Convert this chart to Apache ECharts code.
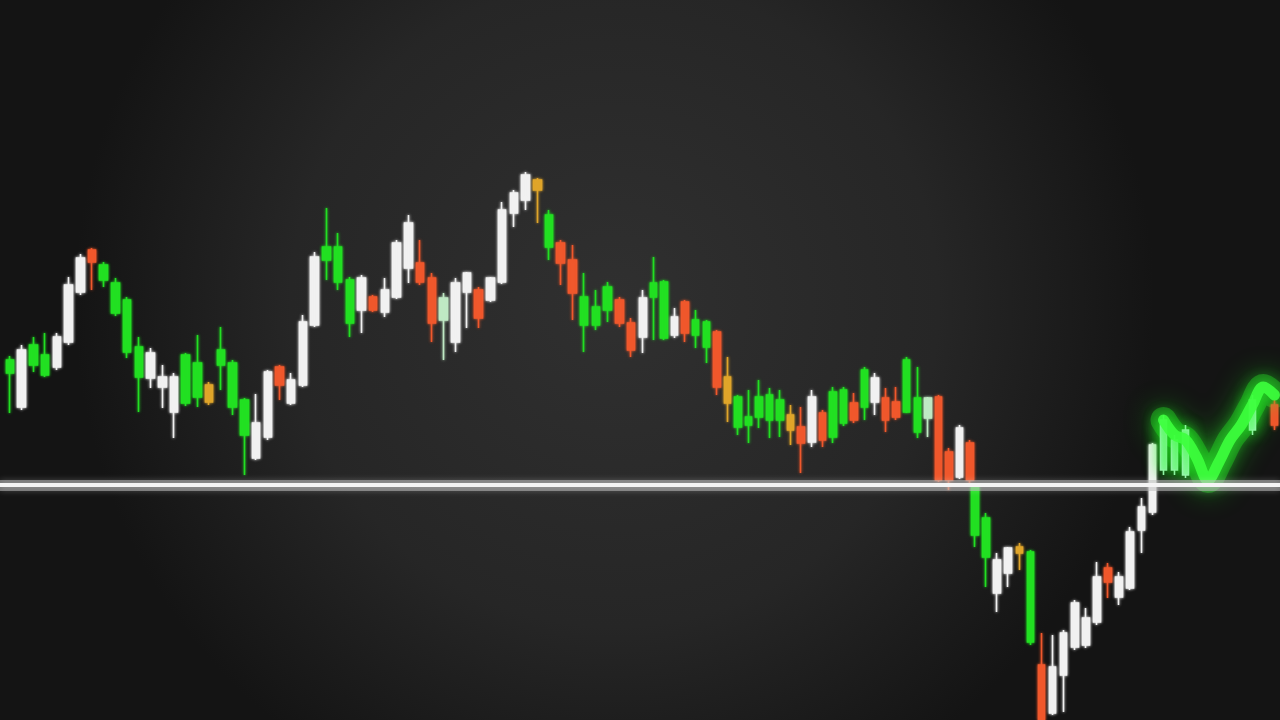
<!DOCTYPE html>
<html><head><meta charset="utf-8">
<style>html,body{margin:0;padding:0;background:#1b1b1b;overflow:hidden}#c{width:1280px;height:720px}</style>
<script src="https://cdn.jsdelivr.net/npm/echarts@6/dist/echarts.min.js"></script>
</head><body><div id="c"></div>
<script>
// Candle values (price units), in order left to right. null = no candle.
const opens  = [347,313,355,345,353,378,428,458,440,407,368,343,342,333,308,317,323,318,355,313,285,262,283,335,317,335,395,460,438,397,410,410,408,423,452,438,397,400,378,428,402,420,438,507,520,530,473,457,427,395,395,410,397,370,
                383,423,382,385,387,385,373,333,317,293,295,303,300,300,290,277,278,280,283,297,300,313,318,300,303,308,288,302,240,240,243,240,185,163,127,147,167,78,0,7,45,73,75,98,138,123,132,190,208,
                250,250,245,null,null,null,null,null,290,null,295];
const closes = [360,370,375,365,383,435,462,470,455,437,420,373,367,343,343,365,357,335,370,357,320,297,348,353,340,398,463,473,473,440,442,423,430,477,497,457,442,422,437,447,430,442,510,527,545,540,505,477,460,423,413,433,420,397,
                422,437,438,403,418,400,398,388,343,323,303,323,325,320,305,293,323,307,328,330,317,350,342,322,318,360,322,322,323,268,292,277,233,202,160,172,173,168,55,53,87,117,102,143,152,143,188,213,275,
                300,280,290,null,null,null,null,null,320,null,315];
const lows   = [307,310,348,343,350,375,425,430,433,404,362,308,332,312,282,314,313,315,330,305,245,260,280,320,315,333,393,440,430,383,387,408,403,421,437,435,378,360,368,392,392,418,436,493,510,497,460,435,400,368,390,398,393,363,
                367,380,380,382,378,372,357,325,298,285,277,292,282,283,275,247,273,273,277,294,297,300,305,288,300,307,282,283,238,230,241,237,173,133,108,133,150,75,0,5,8,70,72,95,122,115,130,167,205,
                245,245,242,null,null,null,null,null,285,null,290];
const highs  = [364,375,383,387,387,443,466,472,458,442,423,383,372,355,347,367,385,338,393,360,322,326,350,355,347,405,468,512,487,443,445,425,442,480,505,480,447,427,442,448,433,443,518,530,548,542,510,480,475,447,430,438,423,402,
                430,463,440,412,420,410,400,390,363,325,330,340,332,330,315,313,330,310,333,333,327,353,347,332,333,363,353,323,325,272,295,280,235,207,167,173,177,170,87,85,90,120,112,158,157,148,193,222,277,
                305,285,295,null,null,null,null,null,325,null,320];
const tones  = ['g','w','g','g','w','w','w','r','g','g','g','g','w','w','w','g','g','y','g','g','g','w','w','r','w','w','w','g','g','g','w','r','w','w','w','r','r','l','w','w','r','w','w','w','w','y','g','r','r','g','g','g','r','r',
                'w','g','g','w','r','g','g','r','y','g','g','g','g','g','y','r','w','r','g','g','r','g','w','r','r','g','g','l','r','r','w','r','g','g','w','w','y','g','r','w','w','w','w','w','r','w','w','w','w',
                'c','c','c','-','-','-','-','-','c','-','r'];
// Glowing green trend trace at the right edge (starts at candle 104)
const glowLine  = [300,285,280,262,240,258,280,295,315,333,325];
const glowStart = 103;
// Horizontal support level
const supportLevel = 235;

const toneColor = {w:'#f1f1f1', g:'#22e022', r:'#f0582c', y:'#e0a52a', l:'#bfe9c4', c:'#9ef5b4'};
const N = opens.length;
const cats = opens.map((_, i) => String(i + 1));
// the photographed chart is not evenly spaced: three horizontal sections
const sections = [
  { from: 0,  to: 54,  left: 4.1,   width: 632.8, bw: 8 },
  { from: 54, to: 86,  left: 637.7, width: 337.6, bw: 7 },
  { from: 86, to: N,   left: 969.4, width: 313.3, bw: 7 }
];
function candleData(from, to) {
  const out = [];
  for (let i = from; i < to; i++) {
    if (opens[i] == null) { out.push('-'); continue; }
    const t = tones[i], col = toneColor[t];
    const glow = t === 'c';
    out.push({ value: [opens[i], closes[i], lows[i], highs[i]],
      itemStyle: { color: col, color0: col, borderColor: col, borderColor0: col,
        shadowBlur: glow ? 16 : 3, shadowColor: glow ? '#22ff22' : col } });
  }
  return out;
}
const grids = sections.map(s => ({ left: s.left, width: s.width, top: 0, height: 720 }));
grids.push({ left: 0, right: 0, top: 0, height: 720 });
const xAxes = sections.map((s, gi) => ({ type: 'category', gridIndex: gi, data: cats.slice(s.from, s.to), boundaryGap: true, show: false }));
xAxes.push({ type: 'value', gridIndex: 3, min: 0, max: 1, show: false, splitLine: { show: false } });
const yAxes = [0, 1, 2, 3].map(gi => ({ type: 'value', gridIndex: gi, min: 0, max: 720, show: false, splitLine: { show: false } }));

const last = sections[2];
const glowData = cats.slice(last.from, last.to).map((_, k) => {
  const i = k + last.from;
  return i >= glowStart && i - glowStart < glowLine.length ? glowLine[i - glowStart] : '-';
});
const series = [];
series.push({ type: 'line', xAxisIndex: 2, yAxisIndex: 2, z: 1, symbol: 'none', smooth: 0.35,
  data: glowData,
  lineStyle: { color: 'rgba(40,235,40,0.35)', width: 26, shadowBlur: 30, shadowColor: 'rgba(30,255,30,0.9)', cap: 'round', join: 'round' } });
sections.forEach((s, gi) => series.push({
  type: 'candlestick', xAxisIndex: gi, yAxisIndex: gi, barWidth: s.bw, z: 2,
  itemStyle: { borderWidth: 1.6 }, data: candleData(s.from, s.to)
}));
series.push({ type: 'line', xAxisIndex: 2, yAxisIndex: 2, z: 3, symbol: 'none', smooth: 0.35,
  data: glowData,
  lineStyle: { color: '#3dff3d', width: 11, shadowBlur: 18, shadowColor: '#2bff2b', opacity: 0.9, cap: 'round', join: 'round' } });
series.push({ type: 'line', xAxisIndex: 3, yAxisIndex: 3, data: [], z: 5,
  markLine: { silent: true, symbol: ['none', 'none'], label: { show: false },
    data: [
      { yAxis: supportLevel, lineStyle: { type: 'solid', color: 'rgba(190,190,190,0.55)', width: 11, shadowBlur: 6, shadowColor: 'rgba(255,255,255,0.4)' } },
      { yAxis: supportLevel, lineStyle: { type: 'solid', color: '#f4f4f4', width: 4 } }
    ] } });

const chart = echarts.init(document.getElementById('c'), null, { renderer: 'canvas' });
chart.setOption({
  animation: false,
  backgroundColor: { type: 'radial', x: 0.48, y: 0.42, r: 0.75,
    colorStops: [{ offset: 0, color: '#303030' }, { offset: 0.6, color: '#262626' }, { offset: 1, color: '#141414' }] },
  grid: grids, xAxis: xAxes, yAxis: yAxes, series: series
});
</script>
</body></html>
